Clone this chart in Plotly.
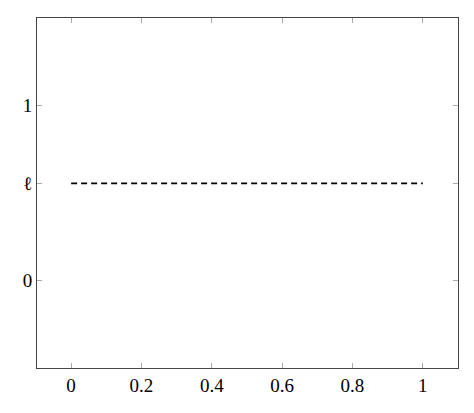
import plotly.graph_objects as go

x_vals = [0, 1]
ell = 0.555
y_vals = [ell, ell]
x_ticks = [0, 0.2, 0.4, 0.6, 0.8, 1]
x_tick_text = ["0", "0.2", "0.4", "0.6", "0.8", "1"]
y_ticks = [0, ell, 1]
y_tick_text = ["0", "ℓ", "1"]

fig = go.Figure(go.Scatter(x=x_vals, y=y_vals, mode="lines",
                           line=dict(color="black", dash="6px,4px", width=1.6)))
axis_common = dict(showgrid=False, zeroline=False, showline=True, linecolor="#444",
                   linewidth=1, mirror="allticks", ticks="inside", ticklen=5,
                   tickcolor="#aaa", tickfont=dict(family="Liberation Serif", size=19, color="black"))
fig.update_xaxes(range=[-0.097, 1.1], tickvals=x_ticks, ticktext=x_tick_text, **axis_common)
fig.update_yaxes(range=[-0.5, 1.5], tickvals=y_ticks, ticktext=y_tick_text, **axis_common)
fig.update_layout(width=474, height=413, margin=dict(l=29, r=24, t=10, b=53),
                  plot_bgcolor="white", paper_bgcolor="white", showlegend=False)
fig.write_html("out.html")
